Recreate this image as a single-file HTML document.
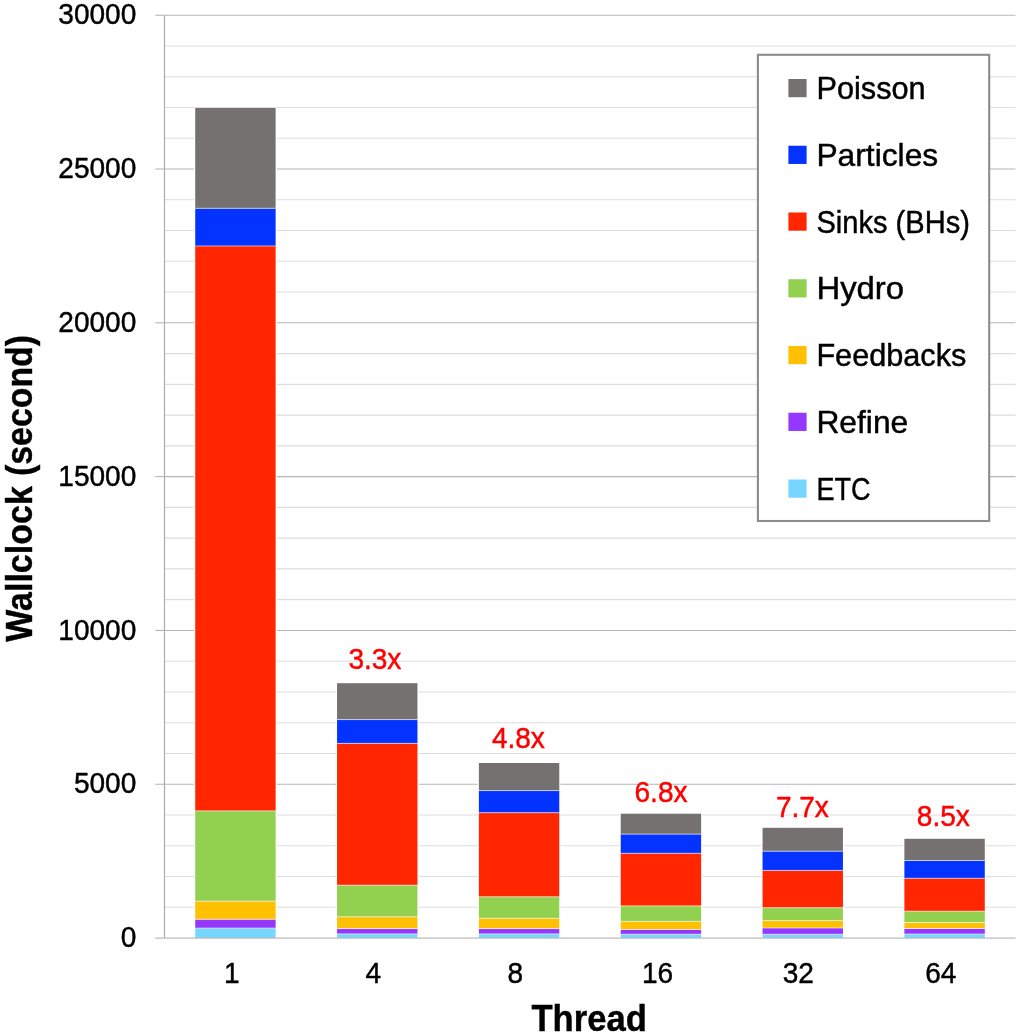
<!DOCTYPE html>
<html lang="en">
<head>
<meta charset="utf-8">
<title>Wallclock vs Thread</title>
<style>
html,body{margin:0;padding:0;background:#fff;}
svg{display:block;}
text{font-family:"Liberation Sans",sans-serif;}
.ax{font-size:30.3px;fill:#000;stroke:#000;stroke-width:0.45px;}
.lg{font-size:32.2px;fill:#000;stroke:#000;stroke-width:0.45px;}
.sp{font-size:29.9px;fill:#FF0000;stroke:#FF0000;stroke-width:0.45px;}
.tt{font-size:37.2px;font-weight:bold;fill:#000;stroke:#000;stroke-width:0.4px;}
</style>
</head>
<body>
<svg width="1020" height="1036" viewBox="0 0 1020 1036">
<rect x="0" y="0" width="1020" height="1036" fill="#ffffff"/>
<g fill="none" stroke-width="1.1">
<line x1="164.5" y1="907.29" x2="1015.5" y2="907.29" stroke="#DDDDDD"/>
<line x1="164.5" y1="876.53" x2="1015.5" y2="876.53" stroke="#DDDDDD"/>
<line x1="164.5" y1="845.76" x2="1015.5" y2="845.76" stroke="#DDDDDD"/>
<line x1="164.5" y1="815.00" x2="1015.5" y2="815.00" stroke="#DDDDDD"/>
<line x1="164.5" y1="784.24" x2="1015.5" y2="784.24" stroke="#B6B6B6"/>
<line x1="164.5" y1="753.48" x2="1015.5" y2="753.48" stroke="#DDDDDD"/>
<line x1="164.5" y1="722.72" x2="1015.5" y2="722.72" stroke="#DDDDDD"/>
<line x1="164.5" y1="691.96" x2="1015.5" y2="691.96" stroke="#DDDDDD"/>
<line x1="164.5" y1="661.19" x2="1015.5" y2="661.19" stroke="#DDDDDD"/>
<line x1="164.5" y1="630.43" x2="1015.5" y2="630.43" stroke="#B6B6B6"/>
<line x1="164.5" y1="599.67" x2="1015.5" y2="599.67" stroke="#DDDDDD"/>
<line x1="164.5" y1="568.91" x2="1015.5" y2="568.91" stroke="#DDDDDD"/>
<line x1="164.5" y1="538.15" x2="1015.5" y2="538.15" stroke="#DDDDDD"/>
<line x1="164.5" y1="507.39" x2="1015.5" y2="507.39" stroke="#DDDDDD"/>
<line x1="164.5" y1="476.62" x2="1015.5" y2="476.62" stroke="#B6B6B6"/>
<line x1="164.5" y1="445.86" x2="1015.5" y2="445.86" stroke="#DDDDDD"/>
<line x1="164.5" y1="415.10" x2="1015.5" y2="415.10" stroke="#DDDDDD"/>
<line x1="164.5" y1="384.34" x2="1015.5" y2="384.34" stroke="#DDDDDD"/>
<line x1="164.5" y1="353.58" x2="1015.5" y2="353.58" stroke="#DDDDDD"/>
<line x1="164.5" y1="322.82" x2="1015.5" y2="322.82" stroke="#B6B6B6"/>
<line x1="164.5" y1="292.06" x2="1015.5" y2="292.06" stroke="#DDDDDD"/>
<line x1="164.5" y1="261.29" x2="1015.5" y2="261.29" stroke="#DDDDDD"/>
<line x1="164.5" y1="230.53" x2="1015.5" y2="230.53" stroke="#DDDDDD"/>
<line x1="164.5" y1="199.77" x2="1015.5" y2="199.77" stroke="#DDDDDD"/>
<line x1="164.5" y1="169.01" x2="1015.5" y2="169.01" stroke="#B6B6B6"/>
<line x1="164.5" y1="138.25" x2="1015.5" y2="138.25" stroke="#DDDDDD"/>
<line x1="164.5" y1="107.49" x2="1015.5" y2="107.49" stroke="#DDDDDD"/>
<line x1="164.5" y1="76.72" x2="1015.5" y2="76.72" stroke="#DDDDDD"/>
<line x1="164.5" y1="45.96" x2="1015.5" y2="45.96" stroke="#DDDDDD"/>
<line x1="164.5" y1="15.20" x2="1015.5" y2="15.20" stroke="#B6B6B6"/>
</g>
<g>
<rect x="194.02" y="107.60" width="82.8" height="829.65" fill="#ffffff"/>
<rect x="195.22" y="928.10" width="80.4" height="9.95" fill="#76D6FF"/>
<rect x="195.22" y="919.30" width="80.4" height="8.80" fill="#9437FF"/>
<rect x="195.22" y="901.20" width="80.4" height="18.10" fill="#FFC000"/>
<rect x="195.22" y="810.90" width="80.4" height="90.30" fill="#92D050"/>
<rect x="195.22" y="246.00" width="80.4" height="564.90" fill="#FF2600"/>
<rect x="195.22" y="208.30" width="80.4" height="37.70" fill="#0432FF"/>
<rect x="195.22" y="107.90" width="80.4" height="100.40" fill="#767171"/>
<line x1="195.22" y1="928.10" x2="275.62" y2="928.10" stroke="#ffffff" stroke-opacity="0.6" stroke-width="1"/>
<line x1="195.22" y1="919.30" x2="275.62" y2="919.30" stroke="#ffffff" stroke-opacity="0.6" stroke-width="1"/>
<line x1="195.22" y1="901.20" x2="275.62" y2="901.20" stroke="#ffffff" stroke-opacity="0.6" stroke-width="1"/>
<line x1="195.22" y1="810.90" x2="275.62" y2="810.90" stroke="#ffffff" stroke-opacity="0.6" stroke-width="1"/>
<line x1="195.22" y1="246.00" x2="275.62" y2="246.00" stroke="#ffffff" stroke-opacity="0.6" stroke-width="1"/>
<line x1="195.22" y1="208.30" x2="275.62" y2="208.30" stroke="#ffffff" stroke-opacity="0.6" stroke-width="1"/>
</g>
<g>
<rect x="335.85" y="682.90" width="82.8" height="254.35" fill="#ffffff"/>
<rect x="337.05" y="933.90" width="80.4" height="4.15" fill="#76D6FF"/>
<rect x="337.05" y="928.60" width="80.4" height="5.30" fill="#9437FF"/>
<rect x="337.05" y="916.80" width="80.4" height="11.80" fill="#FFC000"/>
<rect x="337.05" y="885.20" width="80.4" height="31.60" fill="#92D050"/>
<rect x="337.05" y="743.40" width="80.4" height="141.80" fill="#FF2600"/>
<rect x="337.05" y="719.60" width="80.4" height="23.80" fill="#0432FF"/>
<rect x="337.05" y="683.20" width="80.4" height="36.40" fill="#767171"/>
<line x1="337.05" y1="933.90" x2="417.45" y2="933.90" stroke="#ffffff" stroke-opacity="0.6" stroke-width="1"/>
<line x1="337.05" y1="928.60" x2="417.45" y2="928.60" stroke="#ffffff" stroke-opacity="0.6" stroke-width="1"/>
<line x1="337.05" y1="916.80" x2="417.45" y2="916.80" stroke="#ffffff" stroke-opacity="0.6" stroke-width="1"/>
<line x1="337.05" y1="885.20" x2="417.45" y2="885.20" stroke="#ffffff" stroke-opacity="0.6" stroke-width="1"/>
<line x1="337.05" y1="743.40" x2="417.45" y2="743.40" stroke="#ffffff" stroke-opacity="0.6" stroke-width="1"/>
<line x1="337.05" y1="719.60" x2="417.45" y2="719.60" stroke="#ffffff" stroke-opacity="0.6" stroke-width="1"/>
</g>
<g>
<rect x="477.68" y="762.70" width="82.8" height="174.55" fill="#ffffff"/>
<rect x="478.88" y="933.90" width="80.4" height="4.15" fill="#76D6FF"/>
<rect x="478.88" y="928.60" width="80.4" height="5.30" fill="#9437FF"/>
<rect x="478.88" y="918.30" width="80.4" height="10.30" fill="#FFC000"/>
<rect x="478.88" y="896.80" width="80.4" height="21.50" fill="#92D050"/>
<rect x="478.88" y="812.70" width="80.4" height="84.10" fill="#FF2600"/>
<rect x="478.88" y="790.60" width="80.4" height="22.10" fill="#0432FF"/>
<rect x="478.88" y="763.00" width="80.4" height="27.60" fill="#767171"/>
<line x1="478.88" y1="933.90" x2="559.28" y2="933.90" stroke="#ffffff" stroke-opacity="0.6" stroke-width="1"/>
<line x1="478.88" y1="928.60" x2="559.28" y2="928.60" stroke="#ffffff" stroke-opacity="0.6" stroke-width="1"/>
<line x1="478.88" y1="918.30" x2="559.28" y2="918.30" stroke="#ffffff" stroke-opacity="0.6" stroke-width="1"/>
<line x1="478.88" y1="896.80" x2="559.28" y2="896.80" stroke="#ffffff" stroke-opacity="0.6" stroke-width="1"/>
<line x1="478.88" y1="812.70" x2="559.28" y2="812.70" stroke="#ffffff" stroke-opacity="0.6" stroke-width="1"/>
<line x1="478.88" y1="790.60" x2="559.28" y2="790.60" stroke="#ffffff" stroke-opacity="0.6" stroke-width="1"/>
</g>
<g>
<rect x="619.52" y="813.40" width="82.8" height="123.85" fill="#ffffff"/>
<rect x="620.72" y="934.20" width="80.4" height="3.85" fill="#76D6FF"/>
<rect x="620.72" y="929.50" width="80.4" height="4.70" fill="#9437FF"/>
<rect x="620.72" y="921.40" width="80.4" height="8.10" fill="#FFC000"/>
<rect x="620.72" y="905.90" width="80.4" height="15.50" fill="#92D050"/>
<rect x="620.72" y="853.30" width="80.4" height="52.60" fill="#FF2600"/>
<rect x="620.72" y="834.10" width="80.4" height="19.20" fill="#0432FF"/>
<rect x="620.72" y="813.70" width="80.4" height="20.40" fill="#767171"/>
<line x1="620.72" y1="934.20" x2="701.12" y2="934.20" stroke="#ffffff" stroke-opacity="0.6" stroke-width="1"/>
<line x1="620.72" y1="929.50" x2="701.12" y2="929.50" stroke="#ffffff" stroke-opacity="0.6" stroke-width="1"/>
<line x1="620.72" y1="921.40" x2="701.12" y2="921.40" stroke="#ffffff" stroke-opacity="0.6" stroke-width="1"/>
<line x1="620.72" y1="905.90" x2="701.12" y2="905.90" stroke="#ffffff" stroke-opacity="0.6" stroke-width="1"/>
<line x1="620.72" y1="853.30" x2="701.12" y2="853.30" stroke="#ffffff" stroke-opacity="0.6" stroke-width="1"/>
<line x1="620.72" y1="834.10" x2="701.12" y2="834.10" stroke="#ffffff" stroke-opacity="0.6" stroke-width="1"/>
</g>
<g>
<rect x="761.35" y="827.50" width="82.8" height="109.75" fill="#ffffff"/>
<rect x="762.55" y="934.30" width="80.4" height="3.75" fill="#76D6FF"/>
<rect x="762.55" y="928.00" width="80.4" height="6.30" fill="#9437FF"/>
<rect x="762.55" y="920.60" width="80.4" height="7.40" fill="#FFC000"/>
<rect x="762.55" y="907.70" width="80.4" height="12.90" fill="#92D050"/>
<rect x="762.55" y="870.40" width="80.4" height="37.30" fill="#FF2600"/>
<rect x="762.55" y="851.20" width="80.4" height="19.20" fill="#0432FF"/>
<rect x="762.55" y="827.80" width="80.4" height="23.40" fill="#767171"/>
<line x1="762.55" y1="934.30" x2="842.95" y2="934.30" stroke="#ffffff" stroke-opacity="0.6" stroke-width="1"/>
<line x1="762.55" y1="928.00" x2="842.95" y2="928.00" stroke="#ffffff" stroke-opacity="0.6" stroke-width="1"/>
<line x1="762.55" y1="920.60" x2="842.95" y2="920.60" stroke="#ffffff" stroke-opacity="0.6" stroke-width="1"/>
<line x1="762.55" y1="907.70" x2="842.95" y2="907.70" stroke="#ffffff" stroke-opacity="0.6" stroke-width="1"/>
<line x1="762.55" y1="870.40" x2="842.95" y2="870.40" stroke="#ffffff" stroke-opacity="0.6" stroke-width="1"/>
<line x1="762.55" y1="851.20" x2="842.95" y2="851.20" stroke="#ffffff" stroke-opacity="0.6" stroke-width="1"/>
</g>
<g>
<rect x="903.18" y="838.50" width="82.8" height="98.75" fill="#ffffff"/>
<rect x="904.38" y="934.00" width="80.4" height="4.05" fill="#76D6FF"/>
<rect x="904.38" y="928.50" width="80.4" height="5.50" fill="#9437FF"/>
<rect x="904.38" y="922.50" width="80.4" height="6.00" fill="#FFC000"/>
<rect x="904.38" y="911.20" width="80.4" height="11.30" fill="#92D050"/>
<rect x="904.38" y="878.30" width="80.4" height="32.90" fill="#FF2600"/>
<rect x="904.38" y="860.50" width="80.4" height="17.80" fill="#0432FF"/>
<rect x="904.38" y="838.80" width="80.4" height="21.70" fill="#767171"/>
<line x1="904.38" y1="934.00" x2="984.78" y2="934.00" stroke="#ffffff" stroke-opacity="0.6" stroke-width="1"/>
<line x1="904.38" y1="928.50" x2="984.78" y2="928.50" stroke="#ffffff" stroke-opacity="0.6" stroke-width="1"/>
<line x1="904.38" y1="922.50" x2="984.78" y2="922.50" stroke="#ffffff" stroke-opacity="0.6" stroke-width="1"/>
<line x1="904.38" y1="911.20" x2="984.78" y2="911.20" stroke="#ffffff" stroke-opacity="0.6" stroke-width="1"/>
<line x1="904.38" y1="878.30" x2="984.78" y2="878.30" stroke="#ffffff" stroke-opacity="0.6" stroke-width="1"/>
<line x1="904.38" y1="860.50" x2="984.78" y2="860.50" stroke="#ffffff" stroke-opacity="0.6" stroke-width="1"/>
</g>
<line x1="164.5" y1="15.2" x2="164.5" y2="938.05" stroke="#ABABAB" stroke-width="1.2"/>
<line x1="155.3" y1="938.05" x2="1015.5" y2="938.05" stroke="#BDBDBD" stroke-width="1.3"/>
<line x1="155.3" y1="784.24" x2="164.5" y2="784.24" stroke="#B5B5B5" stroke-width="1.1"/>
<line x1="155.3" y1="630.43" x2="164.5" y2="630.43" stroke="#B5B5B5" stroke-width="1.1"/>
<line x1="155.3" y1="476.62" x2="164.5" y2="476.62" stroke="#B5B5B5" stroke-width="1.1"/>
<line x1="155.3" y1="322.82" x2="164.5" y2="322.82" stroke="#B5B5B5" stroke-width="1.1"/>
<line x1="155.3" y1="169.01" x2="164.5" y2="169.01" stroke="#B5B5B5" stroke-width="1.1"/>
<line x1="155.3" y1="15.20" x2="164.5" y2="15.20" stroke="#B5B5B5" stroke-width="1.1"/>
<text class="ax" x="136.3" y="947.25" text-anchor="end" textLength="15.6" lengthAdjust="spacingAndGlyphs">0</text>
<text class="ax" x="136.3" y="793.44" text-anchor="end" textLength="62.4" lengthAdjust="spacingAndGlyphs">5000</text>
<text class="ax" x="136.3" y="639.63" text-anchor="end" textLength="78.0" lengthAdjust="spacingAndGlyphs">10000</text>
<text class="ax" x="136.3" y="485.82" text-anchor="end" textLength="78.0" lengthAdjust="spacingAndGlyphs">15000</text>
<text class="ax" x="136.3" y="332.02" text-anchor="end" textLength="78.0" lengthAdjust="spacingAndGlyphs">20000</text>
<text class="ax" x="136.3" y="178.21" text-anchor="end" textLength="78.0" lengthAdjust="spacingAndGlyphs">25000</text>
<text class="ax" x="136.3" y="24.40" text-anchor="end" textLength="78.0" lengthAdjust="spacingAndGlyphs">30000</text>
<text class="ax" x="231.8" y="982.6" text-anchor="middle" textLength="15.6" lengthAdjust="spacingAndGlyphs">1</text>
<text class="ax" x="373.3" y="982.6" text-anchor="middle" textLength="15.6" lengthAdjust="spacingAndGlyphs">4</text>
<text class="ax" x="515.4" y="982.6" text-anchor="middle" textLength="15.6" lengthAdjust="spacingAndGlyphs">8</text>
<text class="ax" x="657.6" y="982.6" text-anchor="middle" textLength="31.2" lengthAdjust="spacingAndGlyphs">16</text>
<text class="ax" x="798.3" y="982.6" text-anchor="middle" textLength="31.2" lengthAdjust="spacingAndGlyphs">32</text>
<text class="ax" x="940.8" y="982.6" text-anchor="middle" textLength="31.2" lengthAdjust="spacingAndGlyphs">64</text>
<text class="sp" x="374.9" y="668.6" text-anchor="middle" textLength="53" lengthAdjust="spacingAndGlyphs">3.3x</text>
<text class="sp" x="518.4" y="748.4" text-anchor="middle" textLength="53" lengthAdjust="spacingAndGlyphs">4.8x</text>
<text class="sp" x="661.0" y="801.7" text-anchor="middle" textLength="53" lengthAdjust="spacingAndGlyphs">6.8x</text>
<text class="sp" x="802.4" y="816.8" text-anchor="middle" textLength="53" lengthAdjust="spacingAndGlyphs">7.7x</text>
<text class="sp" x="943.3" y="826.4" text-anchor="middle" textLength="53" lengthAdjust="spacingAndGlyphs">8.5x</text>
<text class="tt" style="font-size:36px" x="589.2" y="1030.9" text-anchor="middle" textLength="115.5" lengthAdjust="spacingAndGlyphs">Thread</text>
<text class="tt" transform="translate(32.0 641.8) rotate(-90)"><tspan x="0" textLength="155.6" lengthAdjust="spacingAndGlyphs">Wallclock</tspan><tspan> </tspan><tspan x="165.8" textLength="141" lengthAdjust="spacingAndGlyphs">(second)</tspan></text>
<rect x="757.9" y="54.8" width="231.3" height="466.2" fill="#ffffff" stroke="#8C8C8C" stroke-width="2.1"/>
<rect x="788.4" y="79.00" width="18.2" height="18.2" fill="#767171"/>
<text class="lg" x="816.4" y="99.00" textLength="109.3" lengthAdjust="spacingAndGlyphs">Poisson</text>
<rect x="788.4" y="145.75" width="18.2" height="18.2" fill="#0432FF"/>
<text class="lg" x="816.4" y="165.75" textLength="121.8" lengthAdjust="spacingAndGlyphs">Particles</text>
<rect x="788.4" y="212.50" width="18.2" height="18.2" fill="#FF2600"/>
<text class="lg" x="816.4" y="232.50" textLength="153.5" lengthAdjust="spacingAndGlyphs">Sinks (BHs)</text>
<rect x="788.4" y="279.25" width="18.2" height="18.2" fill="#92D050"/>
<text class="lg" x="816.4" y="299.25" textLength="87.7" lengthAdjust="spacingAndGlyphs">Hydro</text>
<rect x="788.4" y="346.00" width="18.2" height="18.2" fill="#FFC000"/>
<text class="lg" x="816.4" y="366.00" textLength="149.9" lengthAdjust="spacingAndGlyphs">Feedbacks</text>
<rect x="788.4" y="412.75" width="18.2" height="18.2" fill="#9437FF"/>
<text class="lg" x="816.4" y="432.75" textLength="91.9" lengthAdjust="spacingAndGlyphs">Refine</text>
<rect x="788.4" y="479.50" width="18.2" height="18.2" fill="#76D6FF"/>
<text class="lg" x="816.4" y="499.50" textLength="54.1" lengthAdjust="spacingAndGlyphs">ETC</text>
</svg>
</body>
</html>
